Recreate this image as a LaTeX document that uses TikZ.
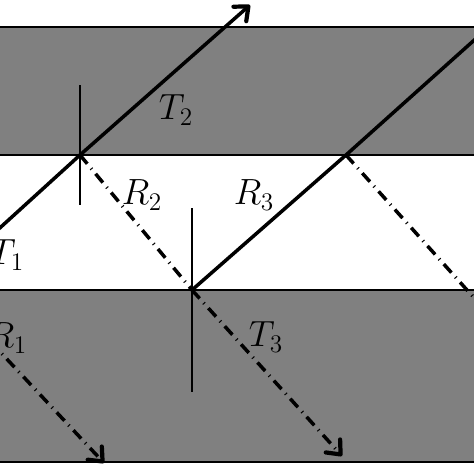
\documentclass[tikz,border=0pt]{standalone}
\usepackage{tikz}
\usetikzlibrary{arrows.meta,positioning}
\tikzset{
  layer/.style={fill=black!50, draw=none},
  iface/.style={line width=1.1pt, black},
  normal/.style={line width=0.8pt, black},
  ray/.style={line width=2pt, black},
  rayback/.style={line width=2pt, black, dash pattern=on 6.5pt off 3.4pt on 0.6pt off 3.4pt},
  lbl/.style={font=\fontsize{22}{26}\selectfont, inner sep=0pt}
}
\begin{document}
\begin{tikzpicture}[x=0.02cm, y=-0.02cm,
    >={Straight Barb[length=6.5pt, width=11pt, line width=2.4pt, round]}]
  \clip (0,0) rectangle (474,474);
  \fill[white] (0,0) rectangle (474,474);

  % gray layers
  \fill[layer] (-10,27) rectangle (484,155);
  \fill[layer] (-10,290) rectangle (484,462);
  \draw[iface] (-10,27) -- (484,27);
  \draw[iface] (-10,155) -- (484,155);
  \draw[iface] (-10,290) -- (484,290);
  \draw[iface] (-10,462) -- (484,462);

  % points on the interfaces
  \coordinate (A) at (80,155);
  \coordinate (B) at (192,290);
  \coordinate (C) at (346,155);
  \coordinate (D) at (467,290);
  \coordinate (in1) at (-20,246);
  \coordinate (out2) at (250,5);
  \coordinate (out3) at (342,456);
  \coordinate (outC) at (500,17);
  \coordinate (outD) at (500,326);
  \coordinate (r1s) at (-10,341);
  \coordinate (r1e) at (104,463);

  % normals
  \draw[normal] (80,85) -- (80,205);
  \draw[normal] (192,208) -- (192,392);

  % solid rays
  \draw[ray] (in1) -- (A);
  \draw[ray, ->] (A) -- (out2);
  \draw[ray] (B) -- (C) -- (outC);

  % dash-dot rays
  \draw[rayback] (A) -- (B);
  \draw[rayback, ->] (B) -- (out3);
  \draw[rayback] (C) -- (D) -- (outD);
  \draw[rayback, ->] (r1s) -- (r1e);

  % labels
  \node[lbl] (t1) at (7,255) {$T_1$};
  \node[lbl] (r1) at (7,338) {$R_1$};
  \node[lbl] (t2) at (176,110) {$T_2$};
  \node[lbl] (r2) at (142,195) {$R_2$};
  \node[lbl] (r3) at (254,195) {$R_3$};
  \node[lbl] (t3) at (266,337) {$T_3$};
\end{tikzpicture}
\end{document}
